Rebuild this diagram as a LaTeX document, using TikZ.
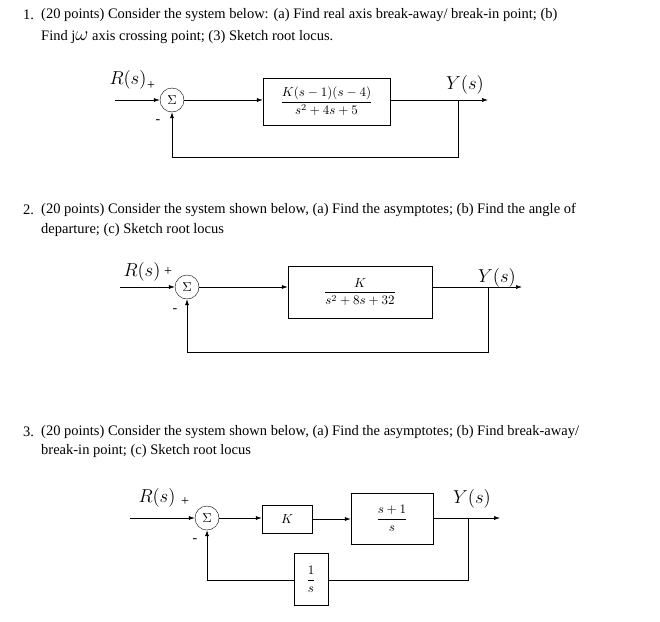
\documentclass[tikz,border=0pt]{standalone}
\usepackage{fontspec}
\setmainfont{Liberation Serif}
\usetikzlibrary{arrows.meta}
\newcommand\mth[1]{\scalebox{1.3}{$\displaystyle #1$}}
\begin{document}
\begin{tikzpicture}[x=1pt,y=-1pt,
  txt/.style={anchor=west,inner sep=0,font=\fontsize{14.5}{16}\selectfont},
  blk/.style={draw,minimum width=#1,inner sep=0},
  sum/.style={draw,circle,minimum size=24pt,inner sep=0},
  lbl/.style={inner sep=0,font=\fontsize{14}{15}\selectfont},
  arr/.style={-{Latex[length=6pt,width=4pt]},line width=0.6pt},
  ln/.style={line width=0.6pt}]
\useasboundingbox (0,0) rectangle (660,621);
% Q1
\node[txt] (n1) at (23,15) {1.};
\node[txt] (t1a) at (41,15) {(20 points) Consider the system below: (a) Find real axis break-away/ break-in point; (b)};
\node[txt] (t1b) at (41,37) {Find j\scalebox{1.4}{$\omega$} axis crossing point; (3) Sketch root locus.};
\coordinate (i1) at (115,100);
\node[sum] (s1) at (172,100) {\mth{\Sigma}};
\node[blk=127pt,minimum height=47pt] (b1) at (326.5,101.5) {\mth{\frac{K(s-1)(s-4)}{s^2+4s+5}}};
\coordinate (o1) at (488,100);
\coordinate (f1) at (458,100);
\coordinate (g1) at (458,157);
\coordinate (h1) at (172,157);
\node[lbl] (r1) at (128,80) {\mth{R(s)}};
\node[lbl] (p1) at (151,86) {+};
\node[lbl] (m1) at (158,122) {-};
\node[lbl] (y1) at (465,85) {\mth{Y(s)}};
\draw[arr] (i1) -- (s1);
\draw[arr] (s1) -- (s1 -| b1.west);
\draw[arr] (b1.east |- o1) -- (o1);
\draw[ln] (f1) -- (g1) -- (h1);
\draw[arr] (h1) -- (s1);
% Q2
\node[txt] (n2) at (23,210) {2.};
\node[txt] (t2a) at (41,210) {(20 points) Consider the system shown below, (a) Find the asymptotes; (b) Find the angle of};
\node[txt] (t2b) at (41,230) {departure; (c) Sketch root locus};
\coordinate (i2) at (120,287);
\node[sum] (s2) at (187,287) {\mth{\Sigma}};
\node[blk=144pt,minimum height=52pt] (b2) at (360,292) {\mth{\frac{K}{s^2+8s+32}}};
\coordinate (o2) at (522,287);
\coordinate (f2) at (488,287);
\coordinate (g2) at (488,352);
\coordinate (h2) at (187,352);
\node[lbl] (r2) at (142,272) {\mth{R(s)}};
\node[lbl] (p2) at (168,272) {+};
\node[lbl] (m2) at (175,311) {-};
\node[lbl] (y2) at (497,278) {\mth{Y(s)}};
\draw[arr] (i2) -- (s2);
\draw[arr] (s2) -- (s2 -| b2.west);
\draw[arr] (b2.east |- o2) -- (o2);
\draw[ln] (f2) -- (g2) -- (h2);
\draw[arr] (h2) -- (s2);
% Q3
\node[txt] (n3) at (23,432) {3.};
\node[txt] (t3a) at (41,432) {(20 points) Consider the system shown below, (a) Find the asymptotes; (b) Find break-away/};
\node[txt] (t3b) at (41,451) {break-in point; (c) Sketch root locus};
\coordinate (i3) at (130,518);
\node[sum] (s3) at (207,518) {\mth{\Sigma}};
\node[blk=50pt,minimum height=28pt] (k3) at (287,519) {\mth{K}};
\node[blk=82pt,minimum height=51pt] (b3) at (392,518.5) {\mth{\frac{s+1}{s}}};
\node[blk=34pt,minimum height=52pt] (c3) at (311,579) {\mth{\frac{1}{s}}};
\coordinate (o3) at (500,518);
\coordinate (f3) at (468,518);
\coordinate (g3) at (468,580);
\coordinate (h3) at (207,580);
\node[lbl] (r3) at (157,498) {\mth{R(s)}};
\node[lbl] (p3) at (185,502) {+};
\node[lbl] (m3) at (195,541) {-};
\node[lbl] (y3) at (472,499) {\mth{Y(s)}};
\draw[arr] (i3) -- (s3);
\draw[arr] (s3) -- (s3 -| k3.west);
\draw[arr] (k3) -- (k3 -| b3.west);
\draw[arr] (b3.east |- o3) -- (o3);
\draw[ln] (f3) -- (g3) -- (g3 -| c3.east);
\draw[ln] (c3.west |- h3) -- (h3);
\draw[arr] (h3) -- (s3);
\end{tikzpicture}
\end{document}
